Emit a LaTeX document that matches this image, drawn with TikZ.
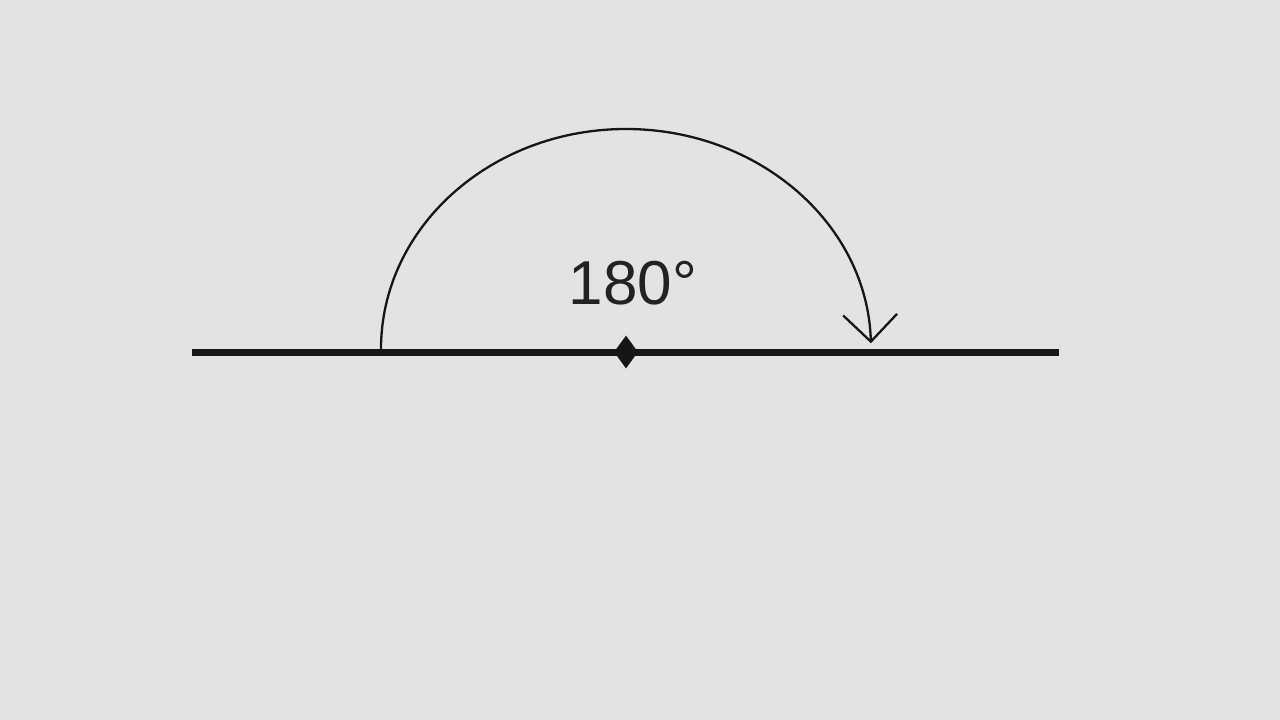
\documentclass[tikz,border=0pt]{standalone}
\usepackage{fontspec}
\setmainfont{Liberation Sans}
\usetikzlibrary{shapes.geometric,arrows.meta}
\definecolor{bg}{RGB}{227,227,227}
\definecolor{ink}{RGB}{22,22,22}
\definecolor{textink}{RGB}{34,34,34}
\tikzset{
  baseline/.style={line width=7pt, draw=ink},
  vertex/.style={diamond, fill=ink, inner sep=0pt, minimum width=24pt, minimum height=33pt},
  anglearc/.style={line width=2.3pt, draw=ink, -{Straight Barb[length=27pt, width=54pt, line width=2.3pt]}},
  anglelabel/.style={font=\fontsize{62}{70}\selectfont, text=textink, inner sep=0pt, anchor=base}
}
\begin{document}
\begin{tikzpicture}[x=1pt, y=-1pt]
  \fill[bg] (0,0) rectangle (1280,720);
  \useasboundingbox (0,0) rectangle (1280,720);
  \coordinate (L) at (192,352);
  \coordinate (R) at (1059,352);
  \coordinate (arcstart) at (381,349);
  \draw[baseline] (L) -- (R);
  \node[vertex] (O) at (626,352) {};
  \draw[anglearc] (arcstart) arc[start angle=180, end angle=1.5, x radius=245, y radius=-220];
  \node[anglelabel] (lbl) at (633,304) {180°};
\end{tikzpicture}
\end{document}
